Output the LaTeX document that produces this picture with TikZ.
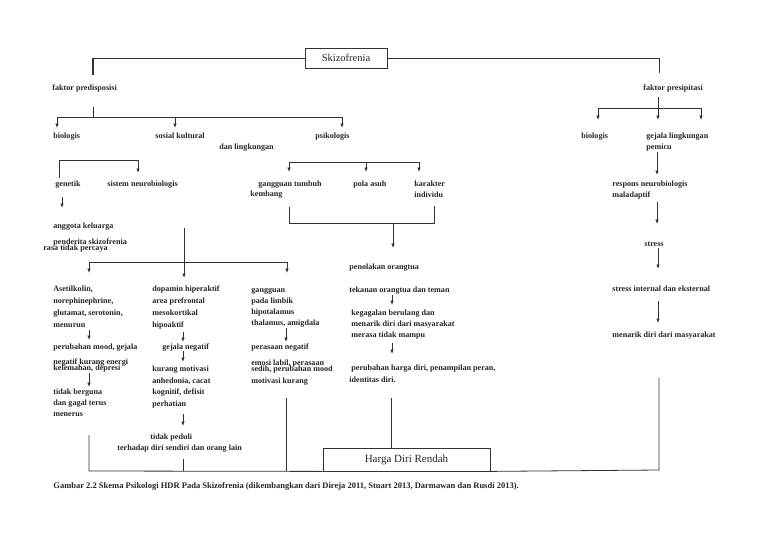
\documentclass[tikz,border=0pt]{standalone}
\usepackage{fontspec}
\setmainfont{Liberation Serif}
\usetikzlibrary{arrows.meta}
\begin{document}
\begin{tikzpicture}[x=1pt,y=-1pt, line width=0.8pt,
  >={Latex[length=4.5pt,width=3.6pt]},
  txt/.style={font=\fontsize{8.1}{11.8}\selectfont\bfseries, inner sep=0pt, anchor=base west, align=left, text=black!85},
  tsp/.style={font=\fontsize{8.1}{#1}\selectfont\bfseries},
  bigbox/.style={draw=black!80, line width=0.8pt, inner sep=0pt, font=\fontsize{10.5}{12}\selectfont, text=black!85},
  ln/.style={draw=black!80},
  arr/.style={draw=black!80, ->}]
\useasboundingbox[fill=white] (0,0) rectangle (768,543);

% ---- boxes
\node[bigbox, minimum width=82pt, minimum height=20pt] (skz) at (346,58) {Skizofrenia};
\node[bigbox, minimum width=167pt, minimum height=23pt, font=\fontsize{11}{13}\selectfont] (hdr) at (406.5,459.5) {Harga Diri Rendah};

% ---- texts (multi-line nodes: base = last line)
\node[txt] (fpre) at (52,90.5) {faktor predisposisi};
\node[txt] (fpres) at (643,90.5) {faktor presipitasi};
\node[txt] (bio1) at (53,138.5) {biologis};
\node[txt] (sos) at (155,138.5) {sosial kultural};
\node[txt] (dling) at (219,149.5) {dan lingkungan};
\node[txt] (psi) at (315,138.5) {psikologis};
\node[txt] (bio2) at (581,138.5) {biologis};
\node[txt, tsp=11] (gej) at (646,149.5) {gejala lingkungan\\pemicu};
\node[txt] (gen) at (55,186.5) {genetik};
\node[txt] (snb) at (107,186.5) {sistem neurobiologis};
\node[txt] (ang) at (53,228.5) {anggota keluarga};
\node[txt] (pend) at (53,244.5) {penderita skizofrenia};
\node[txt] (rasa) at (43,250.5) {rasa tidak percaya};
\node[txt] (gtk) at (258,186.5) {gangguan tumbuh};
\node[txt] (kemb) at (250,196.5) {kembang};
\node[txt] (pola) at (353,186.5) {pola asuh};
\node[txt, tsp=10.5] (kar) at (414,197) {karakter\\individu};
\node[txt, tsp=10.5] (resp) at (612,197) {respons neurobiologis\\maladaptif};
\node[txt] (str) at (644,246.5) {stress};
\node[txt] (strie) at (612,291.5) {stress internal dan eksternal};
\node[txt] (mdm) at (612,337.5) {menarik diri dari masyarakat};
\node[txt] (penol) at (349,269.5) {penolakan orangtua};
\node[txt] (tek) at (349,292.5) {tekanan orangtua dan teman};
\node[txt, tsp=11] (keg) at (351,337.5) {kegagalan berulang dan\\menarik diri dari masyarakat\\merasa tidak mampu};
\node[txt] (phd) at (351,370.5) {perubahan harga diri, penampilan peran,};
\node[txt] (idn) at (349,382.5) {identitas diri.};
% column 1
\node[txt, tsp=12] (ase) at (53,327.5) {Asetilkolin,\\norephinephrine,\\glutamat, serotonin,\\menurun};
\node[txt] (pmg) at (53,349.5) {perubahan mood, gejala};
\node[txt] (nke) at (53,364.5) {negatif kurang energi};
\node[txt] (kel) at (53,370.5) {kelemahan, depresi};
\node[txt, tsp=11] (tbg) at (53,416.5) {tidak berguna\\dan gagal terus\\menerus};
% column 2
\node[txt, tsp=12] (dop) at (152,327.5) {dopamin hiperaktif\\area prefrontal\\mesokortikal\\hipoaktif};
\node[txt] (gjn) at (162,349.5) {gejala negatif};
\node[txt, tsp=11.7] (kmo) at (152,406.6) {kurang motivasi\\anhedonia, cacat\\kognitif, defisit\\perhatian};
\node[txt] (tpd) at (150,439.5) {tidak peduli};
\node[txt] (tds) at (117,450.5) {terhadap diri sendiri dan orang lain};
% column 3
\node[txt, tsp=11] (gpl) at (251,325.5) {gangguan\\pada limbik\\hipotalamus\\thalamus, amigdala};
\node[txt] (pneg) at (251,349.5) {perasaan negatif};
\node[txt] (eml) at (251,365.5) {emosi labil, perasaan};
\node[txt] (sdh) at (251,371.5) {sedih, perubahan mood};
\node[txt] (mtk) at (251,383.5) {motivasi kurang};
% caption
\node[txt, font=\fontsize{8.5}{10}\selectfont\bfseries] (cap) at (53,488.5) {Gambar 2.2 Skema Psikologi HDR Pada Skizofrenia (dikembangkan dari Direja 2011, Stuart 2013, Darmawan dan Rusdi 2013).};

% ---- coordinates
\coordinate (tl) at (93,58);  \coordinate (tlb) at (93,75);
\coordinate (tr) at (659,58); \coordinate (trb) at (659,73);
\coordinate (p1) at (93,107); \coordinate (p1h) at (93,117);
\coordinate (a1) at (57,128); \coordinate (m1) at (175,117); \coordinate (a2) at (175,128); \coordinate (a3) at (342,128);
\coordinate (q1) at (658,97); \coordinate (q1h) at (658,108);
\coordinate (b1) at (598,120); \coordinate (b2) at (658,120); \coordinate (b3) at (701,120);
\coordinate (bgL) at (59,178); \coordinate (bgT1) at (59,160); \coordinate (bgT2) at (138,160); \coordinate (bgR) at (138,173);
\coordinate (psM) at (366,162);
\coordinate (psLa) at (289,172); \coordinate (psMa) at (366,172); \coordinate (psRa) at (419,172);
\coordinate (brL) at (289,207); \coordinate (brLb) at (289,223); \coordinate (brRb) at (434,223); \coordinate (brR) at (434,206);
\coordinate (brM) at (393,223); \coordinate (brMa) at (393,248);
\coordinate (g1) at (62,197); \coordinate (g2) at (62,208);
\coordinate (cv1) at (184,228); \coordinate (cv2) at (184,278);
\coordinate (h1) at (89,262); \coordinate (h1a) at (89,273); \coordinate (h3a) at (287,273);
% col1 arrows
\coordinate (c1a) at (89,330); \coordinate (c1b) at (89,340);
\coordinate (c1c) at (89,373); \coordinate (c1d) at (89,387);
\coordinate (c1e) at (89,435); \coordinate (c1f) at (89,471);
% col2 arrows
\coordinate (c2a) at (183,332); \coordinate (c2b) at (183,342);
\coordinate (c2c) at (183,351); \coordinate (c2d) at (183,362);
\coordinate (c2e) at (183,414); \coordinate (c2f) at (183,426);
\coordinate (c2g) at (183,459); \coordinate (c2h) at (183,471);
% col3
\coordinate (c3a) at (286,328); \coordinate (c3b) at (286,342);
\coordinate (c3c) at (286,398); \coordinate (c3d) at (286,471);
% psych column
\coordinate (pc1) at (392,295); \coordinate (pc2) at (392,305);
\coordinate (pc3) at (392,343); \coordinate (pc4) at (392,354);
\coordinate (pc5) at (391,398); \coordinate (pc6) at (391,448);
% right column
\coordinate (r1) at (657,152); \coordinate (r2) at (657,175);
\coordinate (r3) at (657,202); \coordinate (r4) at (657,224);
\coordinate (r5) at (658,248); \coordinate (r6) at (658,269);
\coordinate (r7) at (658,301); \coordinate (r8) at (658,323);
\coordinate (rv1) at (659,378); \coordinate (rv2) at (659,470);

% ---- connectors
\draw[ln] (skz.west) -- (tl);
\draw[ln, line width=1.8pt] (tl) -- (tlb);
\draw[ln] (skz.east) -- (tr) -- (trb);
\draw[ln] (p1) -- (p1h);
\draw[arr] (p1h) -| (a1);
\draw[arr] (p1h) -| (a3);
\draw[arr] (m1) -- (a2);
\draw[ln] (q1) -- (q1h);
\draw[arr] (q1h) -| (b1);
\draw[arr] (q1h) -| (b3);
\draw[arr] (q1h) -- (b2);
\draw[arr] (bgL) -- (bgT1) -- (bgT2) -- (bgR);
\draw[arr] (psM) -| (psLa);
\draw[arr] (psM) -| (psRa);
\draw[arr] (psM) -- (psMa);
\draw[ln] (brL) -- (brLb) -- (brRb) -- (brR);
\draw[arr] (brM) -- (brMa);
\draw[arr] (g1) -- (g2);
\draw[arr] (cv1) -- (cv2);
\draw[arr] (cv1 |- h1) -| (h1a);
\draw[arr] (cv1 |- h1) -| (h3a);
\draw[arr] (c1a) -- (c1b);
\draw[arr] (c1c) -- (c1d);
\draw[ln] (c1e) -- (c1f) -- (hdr.south west);
\draw[arr] (c2a) -- (c2b);
\draw[arr] (c2c) -- (c2d);
\draw[arr] (c2e) -- (c2f);
\draw[ln] (c2g) -- (c2h);
\draw[arr] (c3a) -- (c3b);
\draw[ln] (c3c) -- (c3d);
\draw[arr] (pc1) -- (pc2);
\draw[arr] (pc3) -- (pc4);
\draw[ln] (pc5) -- (pc6);
\draw[arr] (r1) -- (r2);
\draw[arr] (r3) -- (r4);
\draw[arr] (r5) -- (r6);
\draw[arr] (r7) -- (r8);
\draw[ln] (hdr.south east) -- (rv2) -- (rv1);
\end{tikzpicture}
\end{document}
